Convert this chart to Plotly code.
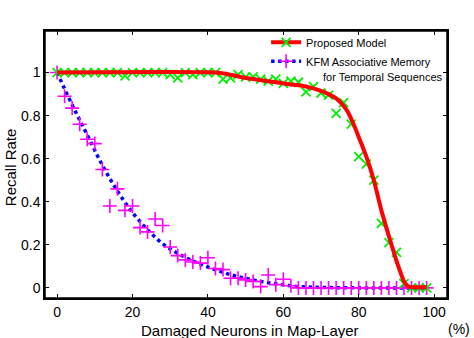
import plotly.graph_objects as go

# Proposed model: measured points (x every 2%)
prop_x = list(range(0, 100, 2))
prop_y = [1, 1, 1, 1, 1, 1, 1, 1, 1, 0.985,
          1, 1, 1, 1, 1, 0.99, 0.975, 1, 0.99, 1,
          1, 1, 0.97, 0.975, 0.99, 0.98, 0.98, 0.97, 0.96, 0.97,
          0.95, 0.96, 0.955, 0.91, 0.935, 0.905, 0.895, 0.81, 0.86, 0.76,
          0.61, 0.575, 0.50, 0.30, 0.21, 0.165, 0.02, 0, 0, 0]

# Proposed model: fitted curve
prop_fit_x = [0, 42, 46, 50, 56, 62, 66, 70, 72, 74, 76, 77, 78, 79, 80, 82, 84, 86, 88, 90, 91, 92, 93, 95, 98]
prop_fit_y = [1, 1, 0.99, 0.975, 0.96, 0.945, 0.935, 0.915, 0.9, 0.88, 0.845, 0.82, 0.785, 0.745, 0.70,
              0.61, 0.5, 0.36, 0.24, 0.125, 0.075, 0.03, 0.008, 0.003, 0.003]

# KFM associative memory: measured points
kfm_x = list(range(0, 100, 2))
kfm_y = [1, 0.89, 0.835, 0.76, 0.69, 0.67, 0.55, 0.38, 0.46, 0.36,
         0.38, 0.28, 0.26, 0.32, 0.29, 0.19, 0.15, 0.13, 0.12, 0.115,
         0.14, 0.09, 0.085, 0.045, 0.045, 0.037, 0.03, 0.006, 0.06, 0.015,
         0.04, 0.01, 0, 0, 0, 0, 0, 0, 0, 0,
         0, 0, 0, 0, 0, 0, 0, 0, 0, 0]

# KFM fitted curve
kfm_fit_x = [0, 4, 8, 12, 16, 20, 24, 28, 32, 36, 40, 44, 48, 52, 56, 60, 64, 70, 80, 90, 98]
kfm_fit_y = [1, 0.85, 0.71, 0.57, 0.45, 0.35, 0.27, 0.205, 0.16, 0.125, 0.097, 0.072, 0.052, 0.037, 0.024, 0.014, 0.006, 0.002, 0, 0, 0]

x_ticks = [0, 20, 40, 60, 80, 100]
y_ticks = [0, 0.2, 0.4, 0.6, 0.8, 1]

RED = "#ff0000"
GREEN = "#00ee00"
BLUE = "#0000ff"
MAGENTA = "#ff00ff"
FONT = "Liberation Sans, Arial"

fig = go.Figure()

fig.add_trace(go.Scatter(x=kfm_fit_x, y=kfm_fit_y, mode="lines",
                         line=dict(color=BLUE, width=3.5, dash="dot", shape="spline"),
                         showlegend=False))
fig.add_trace(go.Scatter(x=kfm_x, y=kfm_y, mode="markers",
                         marker=dict(symbol="cross-thin", size=10, line=dict(color=MAGENTA, width=1.6)),
                         showlegend=False))
fig.add_trace(go.Scatter(x=prop_x, y=prop_y, mode="markers",
                         marker=dict(symbol="x-thin", size=9, line=dict(color=GREEN, width=1.8)),
                         showlegend=False))
fig.add_trace(go.Scatter(x=prop_fit_x, y=prop_fit_y, mode="lines",
                         line=dict(color=RED, width=4, shape="spline", smoothing=0.5),
                         showlegend=False))

# legend entries
fig.add_trace(go.Scatter(x=[None], y=[None], mode="lines+markers", name="Proposed Model",
                         line=dict(color=RED, width=4),
                         marker=dict(symbol="x-thin", size=9, line=dict(color=GREEN, width=1.8))))
fig.add_trace(go.Scatter(x=[None], y=[None], mode="lines+markers",
                         name="KFM Associative Memory",
                         line=dict(color=BLUE, width=3.5, dash="dot"),
                         marker=dict(symbol="cross-thin", size=10, line=dict(color=MAGENTA, width=1.6))))

axis_common = dict(showline=True, linecolor="black", linewidth=1.5, mirror="ticks",
                   ticks="inside", ticklen=4, tickwidth=1, tickcolor="black",
                   showgrid=False, zeroline=False, automargin=False,
                   tickfont=dict(family=FONT, size=14, color="black"))

fig.update_layout(
    width=474, height=338,
    margin=dict(l=45, r=27, t=31, b=40),
    paper_bgcolor="white", plot_bgcolor="white",
    xaxis=dict(range=[-3.2, 103.4], tickvals=x_ticks, ticktext=[str(v) for v in x_ticks], **axis_common),
    yaxis=dict(range=[-0.047, 1.193], tickvals=y_ticks, ticktext=["0", "0.2", "0.4", "0.6", "0.8", "1"],
               **axis_common),
    legend=dict(x=0.55, y=1.012, xanchor="left", yanchor="top", bgcolor="rgba(0,0,0,0)",
                font=dict(family=FONT, size=11, color="black"),
                tracegroupgap=0, itemwidth=30),
    shapes=[dict(type="rect", xref="paper", yref="paper", x0=0, y0=0, x1=1, y1=1,
                 line=dict(color="black", width=1.5), fillcolor="rgba(0,0,0,0)", layer="above")],
    annotations=[
        dict(text="(%)", x=1.03, y=-0.08, xref="paper", yref="paper", showarrow=False,
             xanchor="center", yanchor="top", font=dict(family=FONT, size=14, color="black")),
        dict(text="Damaged Neurons in Map-Layer", x=0.51, y=-0.12, xref="paper", yref="paper",
             showarrow=False, xanchor="center", yanchor="middle",
             font=dict(family=FONT, size=15, color="black")),
        dict(text="Recall Rate", x=-0.087, y=0.49, xref="paper", yref="paper", textangle=-90,
             showarrow=False, xanchor="center", yanchor="middle",
             font=dict(family=FONT, size=15, color="black")),
        # second line of the KFM legend label
        dict(text="for Temporal Sequences", x=(445 - 45) / 402, y=(298 - 77) / 267,
             xref="paper", yref="paper", showarrow=False, xanchor="right", yanchor="middle",
             font=dict(family=FONT, size=11, color="black")),
    ],
)

fig.write_html("out.html")
